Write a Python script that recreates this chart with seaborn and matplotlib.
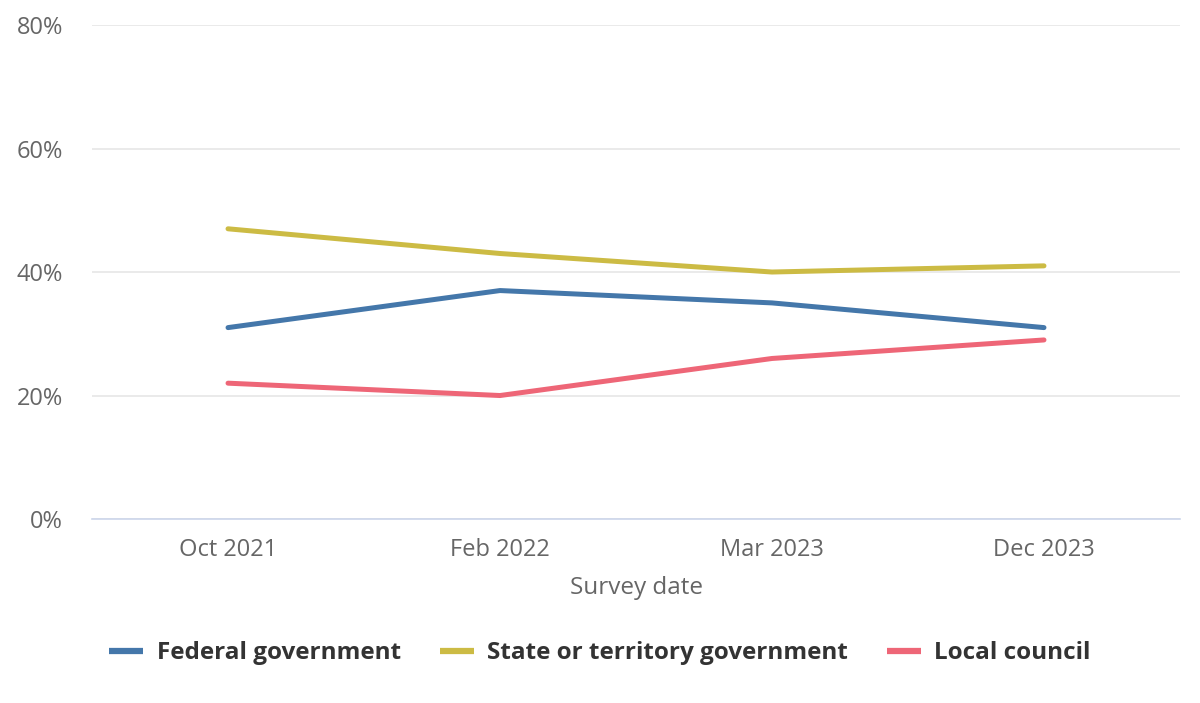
import numpy as np
import pandas as pd
import matplotlib
matplotlib.use("Agg")
import matplotlib.pyplot as plt
import seaborn as sns

# === DATA ===
survey_dates = ["Oct 2021", "Feb 2022", "Mar 2023", "Dec 2023"]
federal = [31, 37, 35, 31]
state = [47, 43, 40, 41]
local = [22, 20, 26, 29]
series_names = ["Federal government", "State or territory government", "Local council"]
colors = ["#4477AA", "#CCBB44", "#EE6677"]

rows = []
for name, vals in zip(series_names, [federal, state, local]):
    for d, v in zip(survey_dates, vals):
        rows.append({"Survey date": d, "value": v, "series": name})
df = pd.DataFrame(rows)

sns.set_style("white")
plt.rcParams['font.family'] = ['Open Sans', 'DejaVu Sans']

fig = plt.figure(figsize=(12, 7.03), dpi=100)
ax = fig.add_axes([0.0767, 0.2617, 0.9066, 0.7027])

sns.lineplot(data=df, x="Survey date", y="value", hue="series",
             hue_order=series_names, palette=colors, linewidth=3.6,
             sort=False, ax=ax, legend=False)

ax.set_xlim(-0.5, 3.5)
ax.set_ylim(0, 80)
ax.set_yticks([0, 20, 40, 60, 80])
ax.set_yticklabels([f"{t}%" for t in [0, 20, 40, 60, 80]])
ax.yaxis.grid(True, color="#e6e6e6", linewidth=1.2)
ax.set_axisbelow(True)
for s in ["top", "right", "left"]:
    ax.spines[s].set_visible(False)
ax.spines["bottom"].set_color("#ccd6eb")
ax.spines["bottom"].set_linewidth(1.2)
ax.tick_params(axis="both", length=0, labelsize=17, colors="#666666")
ax.tick_params(axis="x", pad=14)
ax.tick_params(axis="y", pad=21)
ax.set_ylabel("")
ax.set_xlabel("Survey date", fontsize=17.5, color="#666666", labelpad=10)

handles = [plt.Line2D([], [], color=c, linewidth=4.5, solid_capstyle="butt")
           for c in colors]
fig.legend(handles, series_names, loc="center", bbox_to_anchor=(0.5, 0.071),
           ncol=3, frameon=False, handlelength=1.4, columnspacing=1.6,
           handletextpad=0.55, prop={"weight": "bold", "size": 17.5},
           labelcolor="#333333")

fig.savefig("out.png", dpi=100)
